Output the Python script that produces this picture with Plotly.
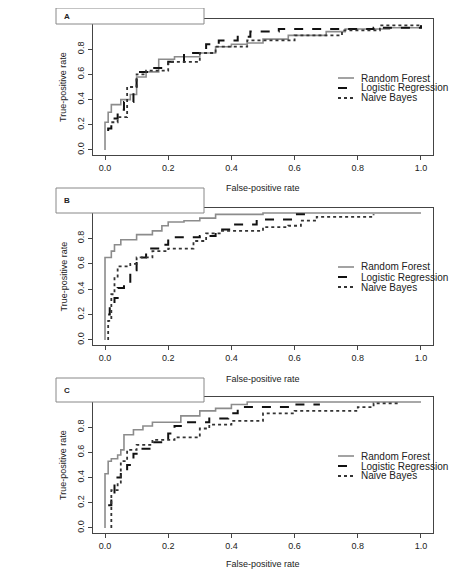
import plotly.graph_objects as go

panels = ["A", "B", "C"]
models = ["Random Forest", "Logistic Regression", "Naive Bayes"]

rf_a_x = [0,0,0.01,0.02,0.05,0.08,0.10,0.13,0.17,0.22,0.30,0.35,0.40,0.45,0.50,0.58,0.70,0.76,0.90,1.0]
rf_a_y = [0,0.22,0.30,0.36,0.40,0.44,0.58,0.62,0.72,0.74,0.77,0.82,0.84,0.85,0.88,0.91,0.94,0.96,0.97,0.99]
lr_a_x = [0.01,0.01,0.02,0.04,0.06,0.09,0.10,0.15,0.20,0.25,0.32,0.36,0.42,0.46,0.55,0.75,0.85,1.0]
lr_a_y = [0.15,0.17,0.25,0.32,0.38,0.46,0.62,0.65,0.70,0.77,0.84,0.87,0.90,0.94,0.96,0.96,0.97,0.99]
nb_a_x = [0.02,0.04,0.07,0.10,0.13,0.20,0.30,0.35,0.45,0.60,0.75,0.87,1.0]
nb_a_y = [0.22,0.26,0.50,0.60,0.63,0.70,0.77,0.82,0.87,0.91,0.95,0.99,1.0]

rf_b_x = [0,0,0.02,0.03,0.05,0.10,0.15,0.18,0.20,0.25,0.30,0.35,0.50,1.0]
rf_b_y = [0,0.65,0.70,0.75,0.79,0.83,0.86,0.90,0.93,0.94,0.96,0.99,1.0,1.0]
lr_b_x = [0.01,0.015,0.03,0.04,0.06,0.08,0.10,0.13,0.18,0.20,0.30,0.35,0.40,0.48,0.60,0.65]
lr_b_y = [0.20,0.27,0.33,0.41,0.45,0.55,0.65,0.72,0.75,0.81,0.82,0.87,0.91,0.95,0.99,0.99]
nb_b_x = [0.01,0.01,0.02,0.03,0.04,0.08,0.10,0.15,0.20,0.28,0.32,0.37,0.50,0.58,0.62,0.67,0.85]
nb_b_y = [0,0.15,0.36,0.50,0.58,0.60,0.65,0.70,0.72,0.78,0.84,0.86,0.89,0.90,0.94,0.97,0.99]

rf_c_x = [0,0,0.01,0.02,0.04,0.05,0.06,0.09,0.12,0.15,0.24,0.24,0.30,0.35,0.40,0.45,1.0]
rf_c_y = [0,0.43,0.53,0.55,0.58,0.62,0.74,0.78,0.81,0.84,0.85,0.89,0.93,0.95,0.98,1.0,1.0]
lr_c_x = [0.01,0.02,0.03,0.05,0.07,0.09,0.10,0.15,0.20,0.22,0.25,0.33,0.39,0.42,0.60,0.68]
lr_c_y = [0.18,0.27,0.40,0.45,0.50,0.59,0.63,0.68,0.75,0.81,0.84,0.87,0.91,0.96,0.98,0.98]
nb_c_x = [0.02,0.02,0.04,0.05,0.07,0.10,0.15,0.22,0.30,0.33,0.38,0.40,0.50,0.60,0.72,0.80,0.85,0.93]
nb_c_y = [0,0.30,0.36,0.53,0.62,0.66,0.70,0.72,0.79,0.82,0.82,0.85,0.91,0.93,0.93,0.96,0.99,0.99]

data = [
    [(rf_a_x, rf_a_y), (lr_a_x, lr_a_y), (nb_a_x, nb_a_y)],
    [(rf_b_x, rf_b_y), (lr_b_x, lr_b_y), (nb_b_x, nb_b_y)],
    [(rf_c_x, rf_c_y), (lr_c_x, lr_c_y), (nb_c_x, nb_c_y)],
]
styles = [dict(color="#8c8c8c", width=1.6, dash="solid"),
          dict(color="#111111", width=2, dash="dash"),
          dict(color="#333333", width=1.8, dash="dot")]

W, H = 474, 569
def py(p): return 1 - p / H
def px(p): return p / W

boxes = [(11, 147), (200, 337), (389, 525)]
headers = [(0, 16), (180, 205), (370, 394)]
xtitle_y = [180, 371, 556]

fig = go.Figure()
font = dict(family="Liberation Sans, Arial", size=9, color="#222")
lfont = dict(family="Liberation Sans, Arial", size=10, color="#222")
for i in range(3):
    sfx = "" if i == 0 else str(i + 1)
    for j in range(3):
        x, y = data[i][j]
        fig.add_trace(go.Scatter(x=x, y=y, mode="lines", line=styles[j], line_shape="hv",
                                 name=models[j], xaxis="x" + sfx, yaxis="y" + sfx,
                                 showlegend=False))
    t, b = boxes[i]
    ax = dict(range=[-0.038, 1.038], tickvals=[0, 0.2, 0.4, 0.6, 0.8, 1.0],
              ticktext=["0.0", "0.2", "0.4", "0.6", "0.8", "1.0"],
              showgrid=False, zeroline=False, showline=True, mirror=True, linecolor="#444",
              linewidth=1, ticks="outside", ticklen=4, tickcolor="#444", tickfont=font,
              domain=[px(85), px(425)], anchor="y" + sfx)
    ay = dict(range=[-0.04, 1.04], tickvals=[0, 0.2, 0.4, 0.6, 0.8],
              ticktext=["0.0", "0.2", "0.4", "0.6", "0.8"], tickangle=-90,
              showgrid=False, zeroline=False, showline=True, mirror=True, linecolor="#444",
              linewidth=1, ticks="outside", ticklen=4, tickcolor="#444", tickfont=font,
              domain=[py(b), py(t)], anchor="x" + sfx)
    fig.layout["xaxis" + sfx] = ax
    fig.layout["yaxis" + sfx] = ay
    # manual legend
    for j in range(3):
        ry = t + 59 + 10 * j
        fig.add_shape(type="line", xref="paper", yref="paper", x0=px(330), x1=px(346),
                      y0=py(ry), y1=py(ry), line=styles[j])
        fig.add_annotation(text=models[j], xref="paper", yref="paper", x=px(351), y=py(ry),
                           xanchor="left", yanchor="middle", showarrow=False, font=lfont)
    ht, hb = headers[i]
    fig.add_shape(type="rect", xref="paper", yref="paper", x0=px(48), x1=px(196),
                  y0=py(hb), y1=py(ht), line=dict(color="#888", width=1), fillcolor="white")
    fig.add_annotation(text="<b>" + panels[i] + "</b>", xref="paper", yref="paper",
                       x=px(54), y=py((ht + hb) / 2), xanchor="left", yanchor="middle",
                       showarrow=False, font=dict(family="Liberation Sans, Arial", size=8, color="#222"))
    fig.add_annotation(text="False-positive rate", xref="paper", yref="paper",
                       x=px(255), y=py(xtitle_y[i]), xanchor="center", yanchor="middle",
                       showarrow=False, font=font)
    fig.add_annotation(text="True-positive rate", xref="paper", yref="paper",
                       x=px(55), y=py((t + b) / 2), xanchor="center", yanchor="middle",
                       textangle=-90, showarrow=False, font=font)

fig.update_layout(width=W, height=H, margin=dict(l=0, r=0, t=0, b=0),
                  plot_bgcolor="white", paper_bgcolor="white")
fig.write_html("out.html")
